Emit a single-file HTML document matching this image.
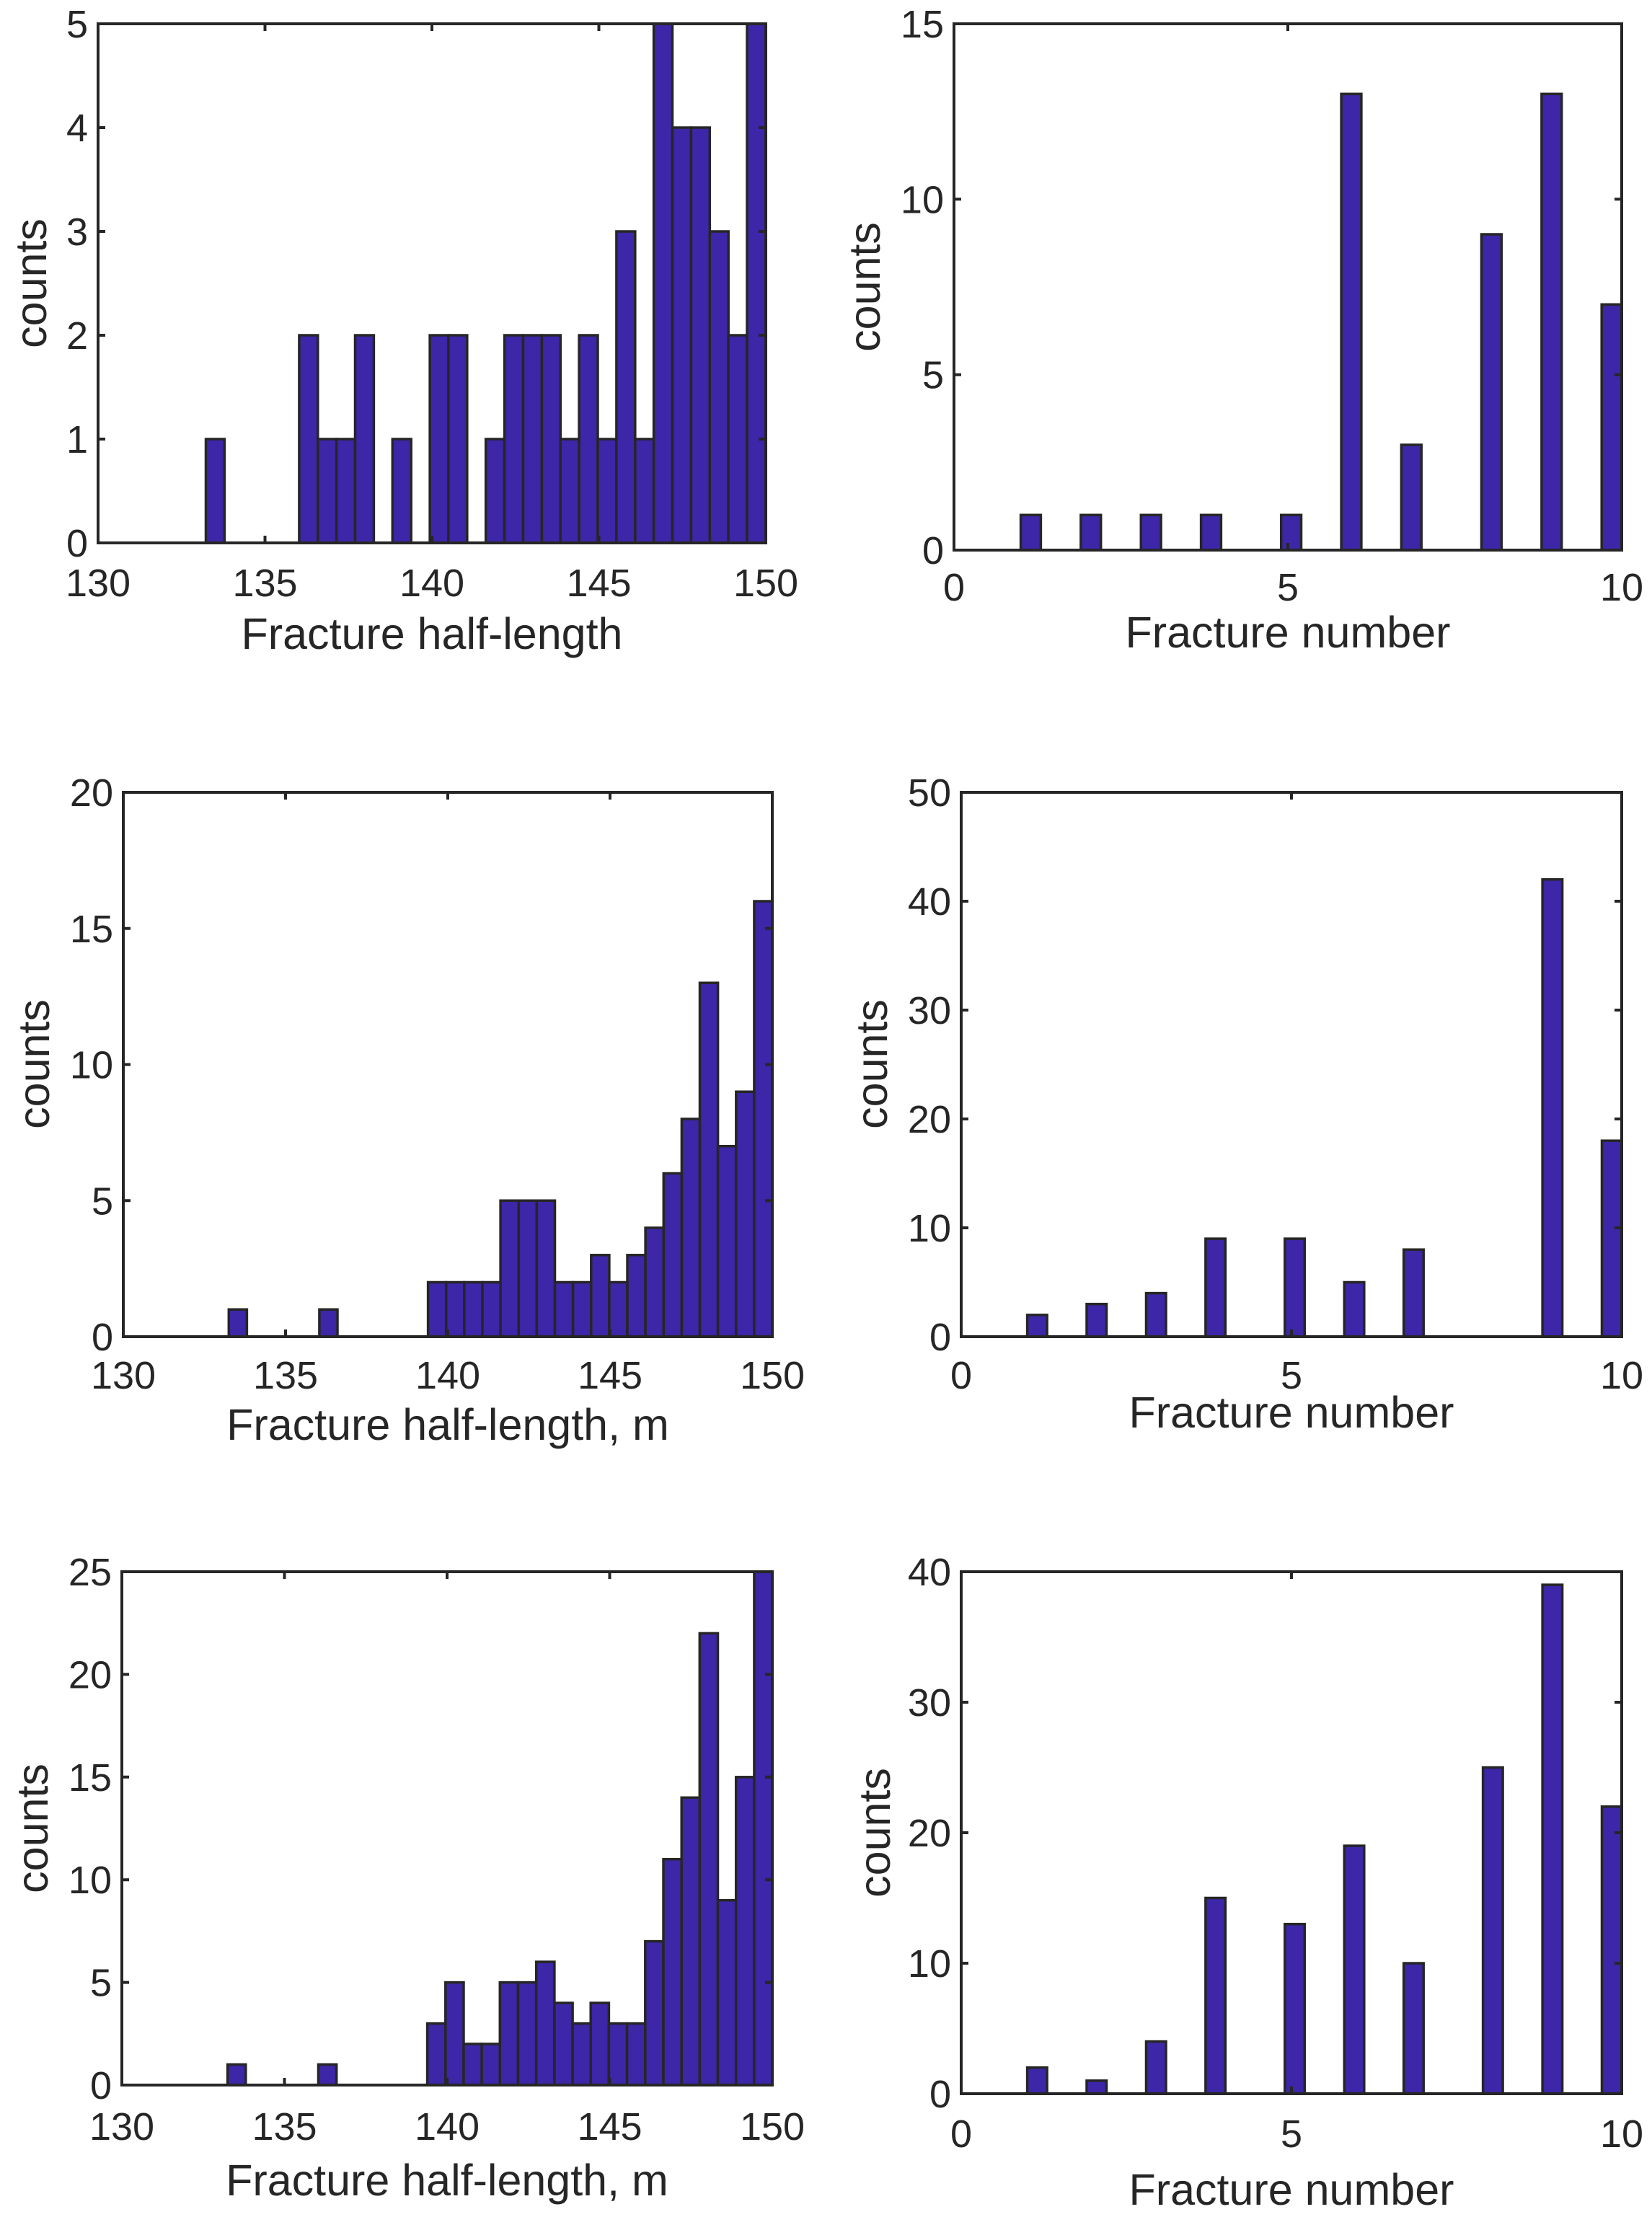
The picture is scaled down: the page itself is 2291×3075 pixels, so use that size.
<!DOCTYPE html>
<html><head><meta charset="utf-8"><style>
html,body{margin:0;padding:0;background:#fff;}
svg{display:block;}
text{font-family:"Liberation Sans",Arial,sans-serif;fill:#262626;}
.t{font-size:54px;}
.l{font-size:61px;}
.b rect{fill:#3d26a8;stroke:#262626;stroke-width:3.5;}
.ax{fill:none;stroke:#262626;stroke-width:4;}
.tk{stroke:#262626;stroke-width:4;}
</style></head><body>
<svg width="2291" height="3075" viewBox="0 0 2291 3075" xmlns="http://www.w3.org/2000/svg">

<!-- TL -->
<g class="b">
<rect x="285.5" y="609" width="25.9" height="144"/>
<rect x="414.9" y="465" width="25.9" height="288"/>
<rect x="440.8" y="609" width="25.9" height="144"/>
<rect x="466.7" y="609" width="25.9" height="144"/>
<rect x="492.5" y="465" width="25.9" height="288"/>
<rect x="544.3" y="609" width="25.9" height="144"/>
<rect x="596.1" y="465" width="25.9" height="288"/>
<rect x="621.9" y="465" width="25.9" height="288"/>
<rect x="673.7" y="609" width="25.9" height="144"/>
<rect x="699.6" y="465" width="25.9" height="288"/>
<rect x="725.5" y="465" width="25.9" height="288"/>
<rect x="751.4" y="465" width="25.9" height="288"/>
<rect x="777.2" y="609" width="25.9" height="144"/>
<rect x="803.1" y="465" width="25.9" height="288"/>
<rect x="829.0" y="609" width="25.9" height="144"/>
<rect x="854.9" y="321" width="25.9" height="432"/>
<rect x="880.8" y="609" width="25.9" height="144"/>
<rect x="906.6" y="33" width="25.9" height="720"/>
<rect x="932.5" y="177" width="25.9" height="576"/>
<rect x="958.4" y="177" width="25.9" height="576"/>
<rect x="984.3" y="321" width="25.9" height="432"/>
<rect x="1010.1" y="465" width="25.9" height="288"/>
<rect x="1036.0" y="33" width="25.9" height="720"/>
</g>
<rect class="ax" x="136" y="33" width="926" height="720"/>
<path class="tk" d="M367.5 753v-10M599 753v-10M830.5 753v-10M367.5 33v10M599 33v10M830.5 33v10M136 609h10M136 465h10M136 321h10M136 177h10M1062 609h-10M1062 465h-10M1062 321h-10M1062 177h-10"/>
<g class="t" text-anchor="middle">
<text x="136" y="827">130</text><text x="367.5" y="827">135</text><text x="599" y="827">140</text><text x="830.5" y="827">145</text><text x="1062" y="827">150</text>
</g>
<g class="t" text-anchor="end">
<text x="122" y="772">0</text><text x="122" y="628">1</text><text x="122" y="484">2</text><text x="122" y="340">3</text><text x="122" y="196">4</text><text x="122" y="52">5</text>
</g>
<text class="l" x="599" y="900" text-anchor="middle">Fracture half-length</text>
<text class="l" transform="translate(43,393) rotate(-90)" text-anchor="middle" dominant-baseline="central">counts</text>

<!-- TR -->
<g class="b">
<rect x="1415.6" y="714.3" width="27.8" height="48.7"/>
<rect x="1498.9" y="714.3" width="27.8" height="48.7"/>
<rect x="1582.3" y="714.3" width="27.8" height="48.7"/>
<rect x="1665.6" y="714.3" width="27.8" height="48.7"/>
<rect x="1776.7" y="714.3" width="27.8" height="48.7"/>
<rect x="1860.1" y="130.3" width="27.8" height="632.7"/>
<rect x="1943.4" y="617" width="27.8" height="146"/>
<rect x="2054.5" y="325" width="27.8" height="438"/>
<rect x="2137.9" y="130.3" width="27.8" height="632.7"/>
<rect x="2221.2" y="422.3" width="27.8" height="340.7"/>
</g>
<rect class="ax" x="1323" y="33" width="926" height="730"/>
<path class="tk" d="M1786 763v-10M1786 33v10M1323 519.7h10M1323 276.3h10M2249 519.7h-10M2249 276.3h-10"/>
<g class="t" text-anchor="middle">
<text x="1323" y="833">0</text><text x="1786" y="833">5</text><text x="2249" y="833">10</text>
</g>
<g class="t" text-anchor="end">
<text x="1309" y="782">0</text><text x="1309" y="538.7">5</text><text x="1309" y="295.3">10</text><text x="1309" y="52">15</text>
</g>
<text class="l" x="1786" y="898" text-anchor="middle">Fracture number</text>
<text class="l" transform="translate(1199,398) rotate(-90)" text-anchor="middle" dominant-baseline="central">counts</text>

<!-- ML -->
<g class="b">
<rect x="317.3" y="1816.25" width="25.1" height="37.75"/>
<rect x="442.9" y="1816.25" width="25.1" height="37.75"/>
<rect x="593.6" y="1778.5" width="25.1" height="75.5"/>
<rect x="618.8" y="1778.5" width="25.1" height="75.5"/>
<rect x="643.9" y="1778.5" width="25.1" height="75.5"/>
<rect x="669.0" y="1778.5" width="25.1" height="75.5"/>
<rect x="694.1" y="1665.25" width="25.1" height="188.75"/>
<rect x="719.3" y="1665.25" width="25.1" height="188.75"/>
<rect x="744.4" y="1665.25" width="25.1" height="188.75"/>
<rect x="769.5" y="1778.5" width="25.1" height="75.5"/>
<rect x="794.6" y="1778.5" width="25.1" height="75.5"/>
<rect x="819.8" y="1740.75" width="25.1" height="113.25"/>
<rect x="844.9" y="1778.5" width="25.1" height="75.5"/>
<rect x="870.0" y="1740.75" width="25.1" height="113.25"/>
<rect x="895.1" y="1703" width="25.1" height="151"/>
<rect x="920.3" y="1627.5" width="25.1" height="226.5"/>
<rect x="945.4" y="1552" width="25.1" height="302"/>
<rect x="970.5" y="1363.25" width="25.1" height="490.75"/>
<rect x="995.6" y="1589.75" width="25.1" height="264.25"/>
<rect x="1020.8" y="1514.25" width="25.1" height="339.75"/>
<rect x="1045.9" y="1250" width="25.1" height="604"/>
</g>
<rect class="ax" x="171" y="1099" width="900" height="755"/>
<path class="tk" d="M396 1854v-10M621 1854v-10M846 1854v-10M396 1099v10M621 1099v10M846 1099v10M171 1665.25h10M171 1476.5h10M171 1287.75h10M1071 1665.25h-10M1071 1476.5h-10M1071 1287.75h-10"/>
<g class="t" text-anchor="middle">
<text x="171" y="1926">130</text><text x="396" y="1926">135</text><text x="621" y="1926">140</text><text x="846" y="1926">145</text><text x="1071" y="1926">150</text>
</g>
<g class="t" text-anchor="end">
<text x="157" y="1873">0</text><text x="157" y="1684.25">5</text><text x="157" y="1495.5">10</text><text x="157" y="1306.75">15</text><text x="157" y="1118">20</text>
</g>
<text class="l" x="621" y="1997" text-anchor="middle">Fracture half-length, m</text>
<text class="l" transform="translate(47,1476) rotate(-90)" text-anchor="middle" dominant-baseline="central">counts</text>

<!-- MR -->
<g class="b">
<rect x="1424.6" y="1823.8" width="27.5" height="30.2"/>
<rect x="1507.0" y="1808.7" width="27.5" height="45.3"/>
<rect x="1589.5" y="1793.6" width="27.5" height="60.4"/>
<rect x="1671.9" y="1718.1" width="27.5" height="135.9"/>
<rect x="1781.8" y="1718.1" width="27.5" height="135.9"/>
<rect x="1864.3" y="1778.5" width="27.5" height="75.5"/>
<rect x="1946.7" y="1733.2" width="27.5" height="120.8"/>
<rect x="2139.1" y="1219.8" width="27.5" height="634.2"/>
<rect x="2221.5" y="1582.2" width="27.5" height="271.8"/>
</g>
<rect class="ax" x="1333" y="1099" width="916" height="755"/>
<path class="tk" d="M1791 1854v-10M1791 1099v10M1333 1703h10M1333 1552h10M1333 1401h10M1333 1250h10M2249 1703h-10M2249 1552h-10M2249 1401h-10M2249 1250h-10"/>
<g class="t" text-anchor="middle">
<text x="1333" y="1926">0</text><text x="1791" y="1926">5</text><text x="2249" y="1926">10</text>
</g>
<g class="t" text-anchor="end">
<text x="1319" y="1873">0</text><text x="1319" y="1722">10</text><text x="1319" y="1571">20</text><text x="1319" y="1420">30</text><text x="1319" y="1269">40</text><text x="1319" y="1118">50</text>
</g>
<text class="l" x="1791" y="1980" text-anchor="middle">Fracture number</text>
<text class="l" transform="translate(1209,1476) rotate(-90)" text-anchor="middle" dominant-baseline="central">counts</text>

<!-- BL -->
<g class="b">
<rect x="315.6" y="2863.5" width="25.2" height="28.5"/>
<rect x="441.5" y="2863.5" width="25.2" height="28.5"/>
<rect x="592.6" y="2806.6" width="25.2" height="85.4"/>
<rect x="617.8" y="2749.6" width="25.2" height="142.4"/>
<rect x="643.0" y="2835" width="25.2" height="57"/>
<rect x="668.1" y="2835" width="25.2" height="57"/>
<rect x="693.3" y="2749.6" width="25.2" height="142.4"/>
<rect x="718.5" y="2749.6" width="25.2" height="142.4"/>
<rect x="743.7" y="2721.1" width="25.2" height="170.9"/>
<rect x="768.9" y="2778.1" width="25.2" height="113.9"/>
<rect x="794.1" y="2806.6" width="25.2" height="85.4"/>
<rect x="819.2" y="2778.1" width="25.2" height="113.9"/>
<rect x="844.4" y="2806.6" width="25.2" height="85.4"/>
<rect x="869.6" y="2806.6" width="25.2" height="85.4"/>
<rect x="894.8" y="2692.6" width="25.2" height="199.4"/>
<rect x="920.0" y="2578.7" width="25.2" height="313.3"/>
<rect x="945.2" y="2493.3" width="25.2" height="398.7"/>
<rect x="970.3" y="2265.4" width="25.2" height="626.6"/>
<rect x="995.5" y="2635.7" width="25.2" height="256.3"/>
<rect x="1020.7" y="2464.8" width="25.2" height="427.2"/>
<rect x="1045.9" y="2180" width="25.2" height="712"/>
</g>
<rect class="ax" x="169" y="2180" width="902" height="712"/>
<path class="tk" d="M394.5 2892v-10M620 2892v-10M845.5 2892v-10M394.5 2180v10M620 2180v10M845.5 2180v10M169 2749.6h10M169 2607.2h10M169 2464.8h10M169 2322.4h10M1071 2749.6h-10M1071 2607.2h-10M1071 2464.8h-10M1071 2322.4h-10"/>
<g class="t" text-anchor="middle">
<text x="169" y="2968">130</text><text x="394.5" y="2968">135</text><text x="620" y="2968">140</text><text x="845.5" y="2968">145</text><text x="1071" y="2968">150</text>
</g>
<g class="t" text-anchor="end">
<text x="155" y="2911">0</text><text x="155" y="2768.6">5</text><text x="155" y="2626.2">10</text><text x="155" y="2483.8">15</text><text x="155" y="2341.4">20</text><text x="155" y="2199">25</text>
</g>
<text class="l" x="620" y="3045" text-anchor="middle">Fracture half-length, m</text>
<text class="l" transform="translate(45,2536) rotate(-90)" text-anchor="middle" dominant-baseline="central">counts</text>

<!-- BR -->
<g class="b">
<rect x="1424.6" y="2867.8" width="27.5" height="36.2"/>
<rect x="1507.0" y="2885.9" width="27.5" height="18.1"/>
<rect x="1589.5" y="2831.6" width="27.5" height="72.4"/>
<rect x="1671.9" y="2632.5" width="27.5" height="271.5"/>
<rect x="1781.8" y="2668.7" width="27.5" height="235.3"/>
<rect x="1864.3" y="2560.1" width="27.5" height="343.9"/>
<rect x="1946.7" y="2723" width="27.5" height="181"/>
<rect x="2056.6" y="2451.5" width="27.5" height="452.5"/>
<rect x="2139.1" y="2198.1" width="27.5" height="705.9"/>
<rect x="2221.5" y="2505.8" width="27.5" height="398.2"/>
</g>
<rect class="ax" x="1333" y="2180" width="916" height="724"/>
<path class="tk" d="M1791 2904v-10M1791 2180v10M1333 2723h10M1333 2542h10M1333 2361h10M2249 2723h-10M2249 2542h-10M2249 2361h-10"/>
<g class="t" text-anchor="middle">
<text x="1333" y="2978">0</text><text x="1791" y="2978">5</text><text x="2249" y="2978">10</text>
</g>
<g class="t" text-anchor="end">
<text x="1319" y="2923">0</text><text x="1319" y="2742">10</text><text x="1319" y="2561">20</text><text x="1319" y="2380">30</text><text x="1319" y="2199">40</text>
</g>
<text class="l" x="1791" y="3058" text-anchor="middle">Fracture number</text>
<text class="l" transform="translate(1213,2542) rotate(-90)" text-anchor="middle" dominant-baseline="central">counts</text>

</svg>
</body></html>
